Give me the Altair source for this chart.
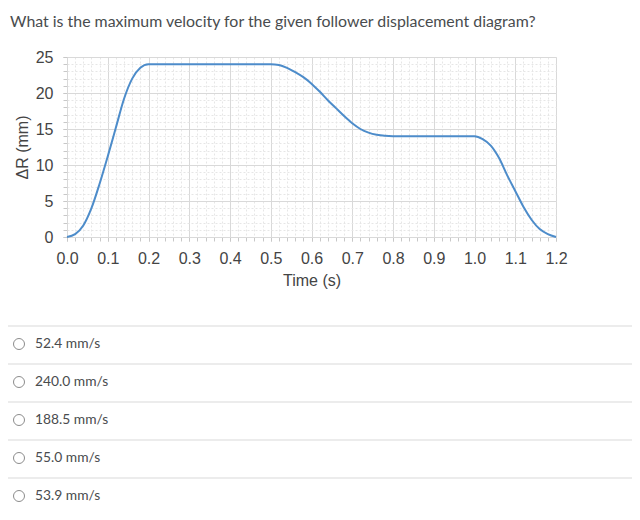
import altair as alt
import pandas as pd

# follower displacement (s, mm)
time_s = [0.00, 0.02, 0.04, 0.06, 0.08, 0.10, 0.12, 0.14, 0.16, 0.18, 0.20,
          0.50, 0.52, 0.54, 0.56, 0.58, 0.60, 0.62, 0.64, 0.66, 0.68, 0.70,
          0.72, 0.74, 0.76, 0.78, 0.80,
          1.00, 1.02, 1.04, 1.06, 1.08, 1.10, 1.12, 1.14, 1.16, 1.18, 1.20]
disp_mm = [0.0, 0.4, 1.6, 4.0, 7.4, 11.2, 15.2, 19.2, 22.0, 23.5, 24.0,
           24.0, 23.9, 23.5, 22.9, 22.2, 21.3, 20.2, 19.0, 17.9, 16.8, 15.8,
           15.0, 14.5, 14.2, 14.05, 14.0,
           14.0, 13.6, 12.7, 11.0, 8.6, 6.4, 4.2, 2.4, 1.1, 0.4, 0.0]

major_x = [0.0, 0.1, 0.2, 0.3, 0.4, 0.5, 0.6, 0.7, 0.8, 0.9, 1.0, 1.1, 1.2]
minor_x = [round(i * 0.02, 2) for i in range(61)]
major_y = [0, 5, 10, 15, 20, 25]
minor_y = list(range(26))

question = ["What is the maximum velocity for the given follower displacement diagram?"]
choices = ["52.4 mm/s", "240.0 mm/s", "188.5 mm/s", "55.0 mm/s", "53.9 mm/s"]

df = pd.DataFrame({"t": time_s, "s": disp_mm})
opts = pd.DataFrame({"i": list(range(len(choices))), "label": choices})

x_scale = alt.Scale(domain=[0, 1.2], nice=False, zero=False)
y_scale = alt.Scale(domain=[0, 25], nice=False)
axis_font = "Liberation Sans"

minor = (
    alt.Chart(df)
    .mark_line(opacity=0)
    .encode(
        x=alt.X("t:Q", scale=x_scale, axis=alt.Axis(
            orient="bottom", values=minor_x, labels=False, title=None, domain=False,
            grid=True, gridColor="#e6e6e6", gridDash=[2, 2], tickSize=4, tickColor="#c8c8c8")),
        y=alt.Y("s:Q", scale=y_scale, axis=alt.Axis(
            orient="left", values=minor_y, labels=False, title=None, domain=False,
            grid=True, gridColor="#e6e6e6", gridDash=[2, 2], tickSize=4, tickColor="#c8c8c8")),
    )
)

line = (
    alt.Chart(df)
    .mark_line(color="#4d8cca", strokeWidth=2, interpolate="monotone")
    .encode(
        x=alt.X("t:Q", scale=x_scale, axis=alt.Axis(
            orient="bottom", values=major_x, format=".1f", title="Time (s)",
            grid=True, gridColor="#d9d9d9", domainColor="#d9d9d9", tickSize=4,
            tickColor="#c8c8c8", labelPadding=9, labelFlush=False, labelFont=axis_font,
            labelFontSize=16, labelColor="#444444", titleFont=axis_font, titleFontSize=16,
            titleFontWeight="normal", titleColor="#444444", titlePadding=6)),
        y=alt.Y("s:Q", scale=y_scale, axis=alt.Axis(
            orient="left", values=major_y, title="\u0394R (mm)",
            grid=True, gridColor="#d9d9d9", domainColor="#d9d9d9", tickSize=4,
            tickColor="#c8c8c8", labelPadding=10, labelFlush=False, labelFont=axis_font,
            labelFontSize=16, labelColor="#444444", titleFont=axis_font, titleFontSize=16,
            titleFontWeight="normal", titleColor="#444444", titlePadding=5)),
    )
)

plot = alt.layer(minor, line).resolve_axis(x="independent", y="independent")

title_text = (
    alt.Chart(pd.DataFrame({"q": question}))
    .mark_text(align="left", baseline="alphabetic", font="Lato", fontSize=15.9, color="#494c4e")
    .encode(x=alt.value(-57), y=alt.value(-30), text="q:N")
)

opt_y = alt.Y("i:Q", scale=alt.Scale(domain=[0, 4], range=[287, 439]), axis=None)

separators = (
    alt.Chart(opts)
    .mark_rule(color="#d9d9d9", strokeWidth=1, yOffset=-18)
    .encode(x=alt.value(-59), x2=alt.value(565), y=opt_y)
)

radios = (
    alt.Chart(opts)
    .mark_point(shape="circle", filled=True, fill="white", stroke="#8c8c8c",
                strokeWidth=1, size=121, opacity=1)
    .encode(x=alt.value(-48), y=opt_y)
)

labels = (
    alt.Chart(opts)
    .mark_text(align="left", baseline="middle", font="Lato", fontSize=13.8, color="#494c4e")
    .encode(x=alt.value(-32), y=opt_y, text="label:N")
)

chart = (
    alt.layer(plot, title_text, separators, radios, labels)
    .resolve_scale(x="independent", y="independent")
    .properties(
        width=489,
        height=180,
        autosize=alt.AutoSizeParams(type="none"),
        padding={"left": 59, "top": 49, "right": 76, "bottom": 275},
    )
    .configure_view(stroke=None)
)

chart.save("out.html", embed_options={"renderer": "svg", "actions": False})
